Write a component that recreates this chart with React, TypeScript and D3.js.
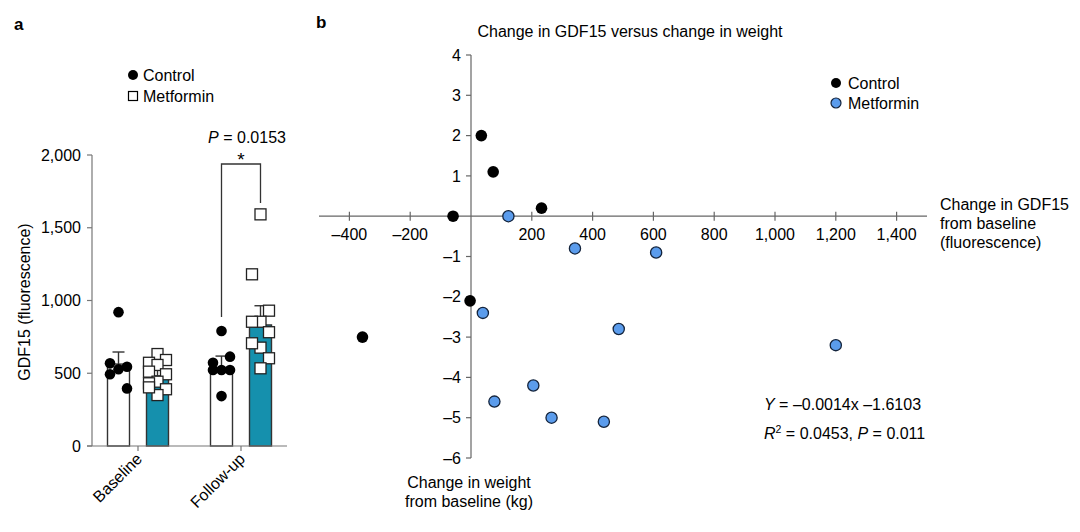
import React from 'react'
import * as d3 from 'd3'

const FONT = '"Liberation Sans", Arial, Helvetica, sans-serif'
const FS = 16

// ---- panel a data ----
const visits = ['Baseline', 'Follow-up']
const arms = ['Control', 'Metformin']
const controlMean = [563, 522]
const controlErrTop = [646, 618]
const metforminMean = [482, 832]
const metforminErrTop = [522, 964]
const controlBaseline = [920, 568, 545, 527, 493, 396]
const metforminBaseline = [632, 572, 591, 557, 511, 493, 442, 431, 390, 350, 403]
const controlFollowup = [790, 572, 614, 522, 522, 522, 343]
const metforminFollowup = [1592, 1180, 930, 854, 854, 782, 676, 706, 603, 534]
const aTicks = [0, 500, 1000, 1500, 2000]
const pBracket = { left: 887, top: 1938, right: 1670 }

// ---- panel b data ----
const ctrlGdf = [34, 73, 232, -59, -3, -357]
const ctrlWeight = [2.0, 1.1, 0.2, 0.0, -2.1, -3.0]
const metGdf = [123, 342, 609, 39, 486, 205, 77, 265, 437, 1200]
const metWeight = [0.0, -0.8, -0.9, -2.4, -2.8, -4.2, -4.6, -5.0, -5.1, -3.2]
const bxTicks = [-400, -200, 200, 400, 600, 800, 1000, 1200, 1400]
const byTicks = [4, 3, 2, 1, -1, -2, -3, -4, -5, -6]

const TEAL = '#1590ad'
const BLUE = '#5b9cec'
const fmt = (v: number) => (v < 0 ? '–' : '') + d3.format(',')(Math.abs(v))

function PanelA() {
  const y = d3.scaleLinear().domain([0, 2000]).range([446, 155])
  const x = d3.scalePoint().domain(visits).range([86.5, 292.5]).padding(0.5)
  const inner = d3.scaleBand().domain(arms).range([-30.5, 30.5]).paddingInner(0.436)
  const bw = inner.bandwidth()
  const slots = [0, -1, 1]
  const pts = [
    { v: 0, a: 'Control', vals: controlBaseline },
    { v: 0, a: 'Metformin', vals: metforminBaseline },
    { v: 1, a: 'Control', vals: controlFollowup },
    { v: 1, a: 'Metformin', vals: metforminFollowup },
  ]
  const bars = visits.flatMap((vis, i) => [
    { vis, a: 'Control', mean: controlMean[i], err: controlErrTop[i], fill: '#fff' },
    { vis, a: 'Metformin', mean: metforminMean[i], err: metforminErrTop[i], fill: TEAL },
  ])
  const bx0 = x('Follow-up')! + inner('Control')! + bw / 2
  const bx1 = x('Follow-up')! + inner('Metformin')! + bw / 2
  return (
    <g fontFamily={FONT}>
      <text x={14} y={30} fontSize={17} fontWeight="bold">a</text>
      {/* legend */}
      <circle cx={133} cy={75} r={5} fill="#000" />
      <text x={143} y={80.5} fontSize={FS}>Control</text>
      <rect x={128.5} y={91.5} width={9} height={9} fill="#fff" stroke="#000" strokeWidth={1.2} />
      <text x={143} y={101.5} fontSize={FS}>Metformin</text>

      {/* bars */}
      {bars.map((b, i) => {
        const cx = x(b.vis)! + inner(b.a)! + bw / 2
        return (
          <g key={i}>
            <rect x={cx - bw / 2} y={y(b.mean)} width={bw} height={y(0) - y(b.mean)}
              fill={b.fill} stroke="#333" strokeWidth={1.4} />
            <line x1={cx} x2={cx} y1={y(b.mean)} y2={y(b.err)} stroke="#333" strokeWidth={1.4} />
            <line x1={cx - 6} x2={cx + 6} y1={y(b.err)} y2={y(b.err)} stroke="#333" strokeWidth={1.4} />
          </g>
        )
      })}

      {/* points */}
      {pts.map((g, gi) => {
        const cx = x(visits[g.v])! + inner(g.a)! + bw / 2
        return g.vals.map((val, i) => {
          const px = cx + slots[i % 3] * 8.5
          return g.a === 'Control' ? (
            <circle key={`${gi}-${i}`} cx={px} cy={y(val)} r={5.3} fill="#000" />
          ) : (
            <rect key={`${gi}-${i}`} x={px - 5.5} y={y(val) - 5.5} width={11} height={11}
              fill="#fff" stroke="#222" strokeWidth={1.3} />
          )
        })
      })}

      {/* axes */}
      <line x1={92} x2={92} y1={y(2000)} y2={y(0)} stroke="#777" strokeWidth={1.2} />
      {aTicks.map(t => (
        <g key={t}>
          <line x1={87} x2={92} y1={y(t)} y2={y(t)} stroke="#777" strokeWidth={1.2} />
          <text x={81} y={y(t)} dy="0.35em" textAnchor="end" fontSize={FS}>{fmt(t)}</text>
        </g>
      ))}
      <line x1={87} x2={287} y1={y(0)} y2={y(0)} stroke="#777" strokeWidth={1.2} />
      {visits.map(v => (
        <g key={v}>
          <line x1={x(v)} x2={x(v)} y1={y(0)} y2={y(0) + 5} stroke="#777" strokeWidth={1.2} />
          <text transform={`translate(${x(v)! + 5},${y(0) + 14}) rotate(-45)`} textAnchor="end" fontSize={FS}>{v}</text>
        </g>
      ))}
      <text transform={`translate(30,302) rotate(-90)`} textAnchor="middle" fontSize={FS}>GDF15 (fluorescence)</text>

      {/* significance */}
      <path d={`M${bx0},${y(pBracket.left)}V${y(pBracket.top)}H${bx1}V${y(pBracket.right)}`}
        fill="none" stroke="#333" strokeWidth={1.3} />
      <text x={(bx0 + bx1) / 2} y={166} textAnchor="middle" fontSize={19}>*</text>
      <text x={247} y={143} textAnchor="middle" fontSize={FS}>
        <tspan fontStyle="italic">P</tspan> = 0.0153
      </text>
    </g>
  )
}

function PanelB() {
  const x = d3.scaleLinear().domain([-500, 1500]).range([319, 927])
  const y = d3.scaleLinear().domain([-6, 4]).range([458, 55])
  const ax = '#666'
  return (
    <g fontFamily={FONT}>
      <text x={316} y={28} fontSize={17} fontWeight="bold">b</text>
      <text x={630} y={37} textAnchor="middle" fontSize={FS}>Change in GDF15 versus change in weight</text>

      {/* axes */}
      <line x1={x(-500)} x2={x(1500)} y1={y(0)} y2={y(0)} stroke={ax} strokeWidth={1.2} />
      <line x1={x(0)} x2={x(0)} y1={y(4)} y2={y(-6)} stroke={ax} strokeWidth={1.2} />
      {bxTicks.map(t => (
        <g key={t}>
          <line x1={x(t)} x2={x(t)} y1={y(0) - 4.5} y2={y(0) + 4.5} stroke={ax} strokeWidth={1.2} />
          <text x={x(t)} y={y(0) + 24} textAnchor="middle" fontSize={FS}>{fmt(t)}</text>
        </g>
      ))}
      {byTicks.map(t => (
        <g key={t}>
          <line x1={x(0) - 5} x2={x(0)} y1={y(t)} y2={y(t)} stroke={ax} strokeWidth={1.2} />
          <text x={x(0) - 10} y={y(t)} dy="0.35em" textAnchor="end" fontSize={FS}>{fmt(t)}</text>
        </g>
      ))}

      {/* points */}
      {ctrlGdf.map((g, i) => (
        <circle key={`c${i}`} cx={x(g)} cy={y(ctrlWeight[i])} r={5.8} fill="#000" />
      ))}
      {metGdf.map((g, i) => (
        <circle key={`m${i}`} cx={x(g)} cy={y(metWeight[i])} r={5.6} fill={BLUE} stroke="#14243c" strokeWidth={1.3} />
      ))}

      {/* legend */}
      <circle cx={836} cy={83} r={5} fill="#000" />
      <text x={848} y={89} fontSize={FS}>Control</text>
      <circle cx={836} cy={103} r={5} fill={BLUE} stroke="#14243c" strokeWidth={1.2} />
      <text x={848} y={109} fontSize={FS}>Metformin</text>

      {/* axis titles */}
      <text x={940} y={210} fontSize={FS}>
        <tspan x={940}>Change in GDF15</tspan>
        <tspan x={940} dy={19}>from baseline</tspan>
        <tspan x={940} dy={19}>(fluorescence)</tspan>
      </text>
      <text x={469} y={488} textAnchor="middle" fontSize={FS}>
        <tspan x={469}>Change in weight</tspan>
        <tspan x={469} dy={19}>from baseline (kg)</tspan>
      </text>

      {/* regression */}
      <text x={764} y={410} fontSize={FS}>
        <tspan fontStyle="italic">Y</tspan> = –0.0014x –1.6103
      </text>
      <text x={764} y={439} fontSize={FS}>
        <tspan fontStyle="italic">R</tspan><tspan dy={-6} fontSize={10.5}>2</tspan>
        <tspan dy={6}> = 0.0453, </tspan><tspan fontStyle="italic">P</tspan> = 0.011
      </text>
    </g>
  )
}

export default function App() {
  return (
    <svg width={1080} height={532} style={{ position: 'absolute', left: 0, top: 0, background: '#fff' }}>
      <rect width={1080} height={532} fill="#fff" />
      <PanelA />
      <PanelB />
    </svg>
  )
}
